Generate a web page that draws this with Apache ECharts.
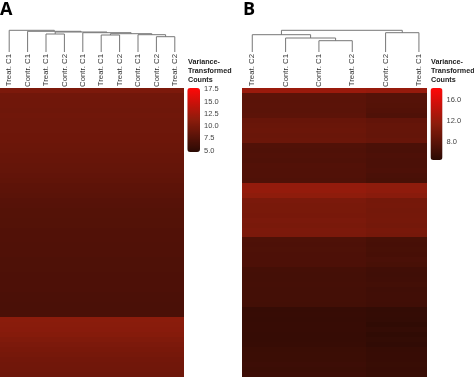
<!DOCTYPE html>
<html>
<head>
<meta charset="utf-8">
<style>
  html, body { margin: 0; padding: 0; background: #fff; }
  #chart { width: 474px; height: 377px; }
</style>
<script src="https://cdn.jsdelivr.net/npm/echarts@6/dist/echarts.min.js"></script>
</head>
<body>
<div id="chart"></div>
<script>
var samplesA = ['Treat. C1','Contr. C1','Treat. C1','Contr. C2','Contr. C1','Treat. C1','Treat. C2','Contr. C1','Contr. C2','Treat. C2'];
var samplesB = ['Treat. C2','Contr. C1','Contr. C1','Treat. C2','Contr. C2','Treat. C1'];

// one value per row, top to bottom (panel A hardly changes from column to column)
var rowsA = [
  10.2,9.5,9.4,9.4,9.3,9.4,9.3,9.3,9.3,9.2,
  9.2,9.1,9.0,8.9,8.8,8.7,8.6,8.5,8.4,8.2,
  8.1,8.0,7.8,7.7,7.6,7.6,7.5,7.5,7.4,7.4,
  7.4,7.3,7.3,7.3,7.2,7.2,7.2,7.1,7.1,7.1,
  7.1,7.0,7.0,6.9,6.9,6.9,11.2,11.1,11.0,10.8,
  10.5,10.2,10.0,9.8,9.6,9.5,9.4,9.3
];
// panel B: first four columns, then last two columns
var rowsBLeft = [
  12.3,8.1,8.0,8.1,8.0,8.2,8.9,9.1,9.2,9.1,
  9.2,7.4,7.3,7.4,7.3,7.5,7.4,7.4,7.3,11.9,
  12.0,11.6,10.3,10.2,10.2,10.1,10.3,10.2,10.4,10.3,
  7.2,7.1,7.2,7.1,7.1,7.1,6.6,6.5,6.5,6.6,
  6.5,6.5,6.5,6.4,5.5,5.6,5.5,5.6,5.6,5.5,
  5.5,5.6,5.8,5.9,5.9,6.0,5.9,6.0
];
var rowsBRight = [
  12.1,7.7,7.7,7.6,7.5,7.3,8.6,8.8,8.8,8.7,
  8.9,7.0,6.9,7.1,7.0,7.0,7.1,6.9,6.8,11.6,
  11.7,11.3,9.9,10.0,9.8,9.9,10.0,9.8,10.1,10.0,
  6.8,6.7,6.8,6.7,6.9,6.8,6.3,6.2,6.3,6.4,
  6.2,6.3,6.3,6.2,5.3,5.4,5.3,5.1,5.4,5.1,
  5.3,5.2,5.5,5.6,5.6,5.7,5.6,5.7
];

// merges like hclust: negative = leaf column (-1 is column 0), positive = earlier merge, then height
var mergesA = [
  [-9,-10,15.3],[-8,1,17.3],[-6,-7,17],[3,2,18.3],[-5,4,19.3],
  [-3,-4,18],[6,5,20],[-2,7,20.7],[-1,8,21.7]
];
var mergesB = [
  [-3,-4,11.3],[-2,1,14],[-5,-6,19.3],[-1,2,17.3],[4,3,21.7]
];

var ticksA = [5, 17.5, 2.5];
var ticksB = [8, 16, 4];
var scaleA = [4.8, 17.75];
var scaleB = [4.7, 18.3];
var heatColors = ['#2a0a04', '#8c1c0c', '#ff0808'];

function rowCells(cols, rowValues) {
  var cells = [];
  for (var c = 0; c < cols; c++) {
    rowValues(c).forEach(function (v, r) { cells.push([c, r, v]); });
  }
  return cells;
}

// heatmap series leaves 1px gaps between rows here, so cells snap to whole pixels
function renderCell(params, api) {
  var p = api.coord([api.value(0), api.value(1)]);
  var s = api.size([1, 1]);
  var x0 = Math.round(p[0] - s[0] / 2), x1 = Math.round(p[0] + s[0] / 2);
  var y0 = Math.round(p[1] - s[1] / 2), y1 = Math.round(p[1] + s[1] / 2);
  return {
    type: 'rect',
    shape: { x: x0, y: y0, width: x1 - x0, height: y1 - y0 },
    style: { fill: api.visual('color') }
  };
}

function renderDendro(merges) {
  return function (params, api) {
    var centers = [];
    var kids = [];
    function pos(id) {
      return id < 0 ? [-id - 1, 0] : centers[id - 1];
    }
    merges.forEach(function (m) {
      var a = pos(m[0]), b = pos(m[1]);
      centers.push([(a[0] + b[0]) / 2, m[2]]);
      kids.push({
        type: 'polyline',
        shape: { points: [api.coord([a[0], a[1]]), api.coord([a[0], m[2]]), api.coord([b[0], m[2]]), api.coord([b[0], b[1]])] },
        style: { fill: null, stroke: '#777', lineWidth: 1 }
      });
    });
    return { type: 'group', children: kids };
  };
}

var hidden = { show: false };

// each panel: 0 heat, 1 dendrogram + labels, 2 colour bar axis
var grids = [
  { left: 0, top: 88, width: 184, height: 290 },
  { left: 0, top: 30, width: 184, height: 22 },
  { left: 187, top: 89.3, width: 13, height: 61.4 },
  { left: 242.3, top: 88, width: 185, height: 290 },
  { left: 235.6, top: 30, width: 200, height: 22 },
  { left: 430.5, top: 100, width: 12, height: 42.4 }
];

function heatX(grid, n) { return { type: 'category', gridIndex: grid, data: n, show: false }; }
function heatRows(grid, n) { return { type: 'category', gridIndex: grid, inverse: true, data: n, show: false }; }
function labelAxis(grid, names) {
  return {
    type: 'category', gridIndex: grid, data: names, position: 'bottom',
    axisLine: hidden, axisTick: hidden,
    axisLabel: { rotate: 90, interval: 0, margin: 2, fontSize: 7.8, color: '#333', fontFamily: 'Liberation Sans' }
  };
}
function leafAxis(grid, n) { return { type: 'value', gridIndex: grid, min: -0.5, max: n - 0.5, show: false }; }
function heightAxis(grid) { return { type: 'value', gridIndex: grid, min: 0, max: 22, show: false }; }
function barAxis(grid, t) {
  return {
    type: 'value', gridIndex: grid, position: 'right', min: t[0], max: t[1], interval: t[2],
    axisLine: hidden, splitLine: hidden,
    axisTick: { show: true, inside: true, length: 3, lineStyle: { color: 'rgba(255,255,255,0.5)', width: 1 } },
    axisLabel: {
      margin: 4, fontSize: 7.5, color: '#444', fontFamily: 'Liberation Sans',
      formatter: function (v) { return v.toFixed(1); }
    }
  };
}
function dummyX(grid) { return { type: 'value', gridIndex: grid, min: 0, max: 1, show: false }; }

var indexes = function (n) { return Array.from({ length: n }, function (_, i) { return i; }); };

function titleText(text, left, top) {
  return { text: text, left: left, top: top, padding: 0,
    textStyle: { fontSize: 18, fontWeight: 'bold', color: '#000', fontFamily: 'Open Sans' } };
}
function scaleTitle(left) {
  return { text: 'Variance-\nTransformed\nCounts', left: left, top: 58, padding: 0,
    textStyle: { fontSize: 7.2, lineHeight: 9, fontWeight: 'bold', color: '#222', fontFamily: 'Liberation Sans' } };
}

var chart = echarts.init(document.getElementById('chart'), null, { renderer: 'canvas' });
chart.setOption({
  animation: false,
  backgroundColor: '#fff',
  title: [titleText('A', 0, 1), titleText('B', 243, 1), scaleTitle(188), scaleTitle(431)],
  grid: grids,
  xAxis: [
    heatX(0, indexes(10)), leafAxis(1, 10), labelAxis(1, samplesA), dummyX(2),
    heatX(3, indexes(6)), leafAxis(4, 6), labelAxis(4, samplesB), dummyX(5)
  ],
  yAxis: [
    heatRows(0, indexes(rowsA.length)), heightAxis(1), barAxis(2, ticksA),
    heatRows(3, indexes(rowsBLeft.length)), heightAxis(4), barAxis(5, ticksB)
  ],
  visualMap: [
    { type: 'continuous', seriesIndex: 0, dimension: 2, min: scaleA[0], max: scaleA[1], left: 187.3, top: 88, padding: 0,
      itemWidth: 12.7, itemHeight: 64, calculable: false, realtime: false, inRange: { color: heatColors } },
    { type: 'continuous', seriesIndex: 1, dimension: 2, min: scaleB[0], max: scaleB[1], left: 430.5, top: 88, padding: 0,
      itemWidth: 12, itemHeight: 72, calculable: false, realtime: false, inRange: { color: heatColors } }
  ],
  series: [
    { type: 'custom', xAxisIndex: 0, yAxisIndex: 0, encode: { x: 0, y: 1 }, silent: true, renderItem: renderCell,
      data: rowCells(10, function () { return rowsA; }), progressive: 0 },
    { type: 'custom', xAxisIndex: 4, yAxisIndex: 3, encode: { x: 0, y: 1 }, silent: true, renderItem: renderCell,
      data: rowCells(6, function (c) { return c < 4 ? rowsBLeft : rowsBRight; }), progressive: 0 },
    { type: 'custom', xAxisIndex: 1, yAxisIndex: 1, data: [[0, 0]], renderItem: renderDendro(mergesA), silent: true, z: 5 },
    { type: 'custom', xAxisIndex: 5, yAxisIndex: 4, data: [[0, 0]], renderItem: renderDendro(mergesB), silent: true, z: 5 }
  ]
});
</script>
</body>
</html>
